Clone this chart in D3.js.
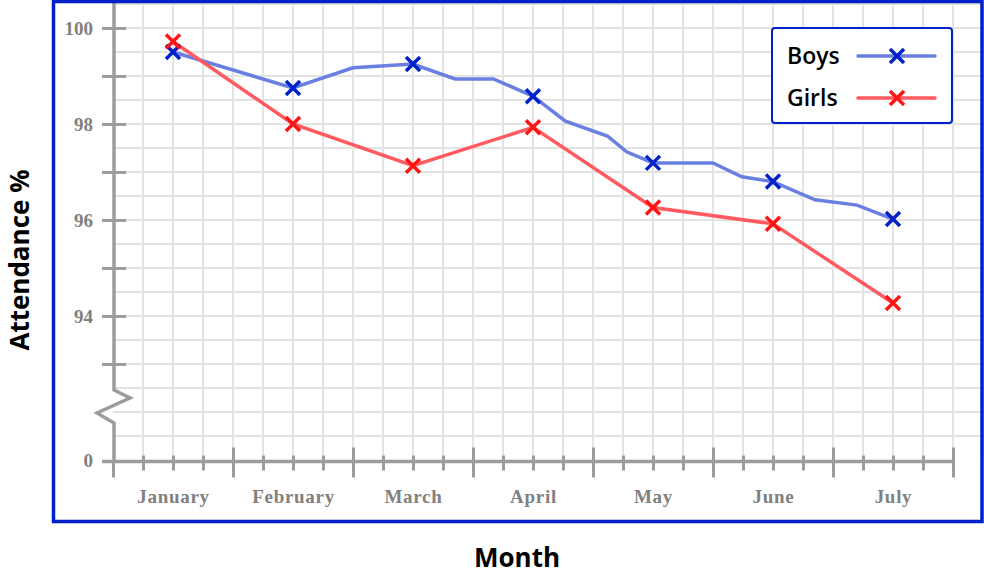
<!DOCTYPE html>
<html>
<head>
  <title>Attendance</title>
  <script src="https://d3js.org/d3.v7.min.js"></script>
  <style>
    body { margin: 0; background: #fff; }
  </style>
</head>
<body>
  <div id="chart"></div>
  <script>
    // data
    const months = ["January", "February", "March", "April", "May", "June", "July"];

    // boys line has extra readings between the months (position in months from January)
    const boysPos = [0, 1, 1.5, 2, 2.35, 2.67, 3, 3.27, 3.62, 3.78, 4, 4.5, 4.74, 5, 5.35, 5.7, 6];
    const boysVal = [99.5, 98.75, 99.17, 99.25, 98.94, 98.94, 98.58, 98.06, 97.75, 97.42, 97.19, 97.19, 96.9, 96.8, 96.42, 96.31, 96.02];

    const girlsVal = [99.72, 98.0, 97.13, 97.93, 96.26, 95.92, 94.27];

    const yTickVals = [100, 98, 96, 94];
    const yBreakValue = 91;   // where the broken axis shows "0"
    const yBreakLabel = "0";

    const width = 984, height = 576;

    const svg = d3.select("#chart")
                  .append("svg")
                  .attr("width", width)
                  .attr("height", height);

    // scales
    const x = d3.scaleLinear().domain([-0.5, 6.5]).range([113, 953]);
    const y = d3.scaleLinear().domain([91, 100]).range([460, 28]);

    const gridColor = "#e3e3e3", axisColor = "#9c9c9c";

    // grid
    const grid = svg.append("g");
    grid.selectAll(".vg")
        .data(d3.range(-0.25, 6.76, 0.25))
        .enter().append("line")
        .attr("x1", d => x(d)).attr("x2", d => x(d))
        .attr("y1", 3).attr("y2", y(91))
        .attr("stroke", gridColor).attr("stroke-width", 2);
    grid.selectAll(".hg")
        .data(d3.range(91.5, 100.51, 0.5))
        .enter().append("line")
        .attr("x1", x(-0.5)).attr("x2", 982)
        .attr("y1", d => y(d)).attr("y2", d => y(d))
        .attr("stroke", gridColor).attr("stroke-width", 2);

    // x axis: quarter-month ticks, big ones between months
    const xAxis = svg.append("g")
       .attr("transform", `translate(0,${y(91) + 1.5})`)
       .call(d3.axisBottom(x).tickValues(d3.range(-0.5, 6.51, 0.25)).tickFormat(""));
    xAxis.select(".domain").remove();
    xAxis.selectAll(".tick line")
         .attr("stroke", axisColor).attr("stroke-width", 3)
         .attr("y1", (d, i) => i === 0 ? 0 : (i % 4 === 0 ? -14 : -6))
         .attr("y2", (d, i) => i % 4 === 0 ? 16 : 9);
    xAxis.append("line")
         .attr("x1", 102).attr("x2", 955)
         .attr("stroke", axisColor).attr("stroke-width", 3.5);

    const xLabels = svg.append("g")
       .attr("transform", `translate(0,${y(91)})`)
       .call(d3.axisBottom(x).tickValues(d3.range(0, 7)).tickFormat(i => months[i]).tickSize(0).tickPadding(30));
    xLabels.select(".domain").remove();
    xLabels.selectAll("text")
         .attr("fill", "#808080")
         .style("font", "bold 19px 'Liberation Serif', serif")
         .style("letter-spacing", "0.7px");

    // y axis with a break
    const yAxis = svg.append("g")
       .attr("transform", `translate(${x(-0.5) + 1},0)`)
       .call(d3.axisLeft(y).tickValues(d3.range(93, 100.1, 1)).tickFormat(""));
    yAxis.select(".domain").remove();
    yAxis.selectAll(".tick line")
         .attr("stroke", axisColor).attr("stroke-width", 3)
         .attr("x1", -12).attr("x2", 12);

    const ax0 = x(-0.5) + 1;
    yAxis.append("path")
         .attr("transform", `translate(${-ax0},0)`)
         .attr("d", `M${ax0},3 V390 L${ax0 + 16},398 L${ax0 - 17},413 L${ax0},423 V${y(91) + 1.5}`)
         .attr("fill", "none").attr("stroke", axisColor).attr("stroke-width", 3.5);

    const yLabels = svg.append("g")
       .attr("transform", `translate(${x(-0.5)},0)`)
       .call(d3.axisLeft(y).tickValues(yTickVals.concat([yBreakValue]))
               .tickFormat(d => d === yBreakValue ? yBreakLabel : d)
               .tickSize(0).tickPadding(20));
    yLabels.select(".domain").remove();
    yLabels.selectAll("text")
         .attr("fill", "#808080")
         .style("font", "bold 19px 'Liberation Serif', serif");

    // lines
    const boys = boysPos.map((p, i) => ({p: p, v: boysVal[i]}));
    const girls = girlsVal.map((v, i) => ({p: i, v: v}));
    const line = d3.line().x(d => x(d.p)).y(d => y(d.v));

    svg.append("path").datum(boys)
       .attr("d", line).attr("fill", "none")
       .attr("stroke", "#6a7fe2").attr("stroke-width", 3.5);
    svg.append("path").datum(girls)
       .attr("d", line).attr("fill", "none")
       .attr("stroke", "#ff5a60").attr("stroke-width", 3.5);

    // cross markers
    const cross = "M-7,-7L7,7M-7,7L7,-7";
    function markers(data, color) {
      svg.append("g").selectAll("path")
         .data(data)
         .enter().append("path")
         .attr("transform", d => `translate(${x(d.p)},${y(d.v)})`)
         .attr("d", cross)
         .attr("stroke", color).attr("stroke-width", 3.5).attr("fill", "none");
    }
    markers(boys.filter(d => Number.isInteger(d.p)), "#0021c9");
    markers(girls, "#ff1414");

    // legend
    const legend = svg.append("g");
    legend.append("rect")
          .attr("x", 772).attr("y", 28).attr("width", 180).attr("height", 95)
          .attr("rx", 3).attr("fill", "#fff")
          .attr("stroke", "#0021c9").attr("stroke-width", 2);
    const legItems = [
      {name: "Boys", line: "#6a7fe2", mark: "#0021c9", y: 56},
      {name: "Girls", line: "#ff5a60", mark: "#ff1414", y: 98}
    ];
    legItems.forEach(it => {
      legend.append("text")
            .attr("x", 787).attr("y", it.y + 8)
            .style("font", "600 23px 'Open Sans', sans-serif")
            .attr("fill", "#000").text(it.name);
      legend.append("line")
            .attr("x1", 858).attr("x2", 935).attr("y1", it.y).attr("y2", it.y)
            .attr("stroke", it.line).attr("stroke-width", 3.5).attr("stroke-linecap", "round");
      legend.append("path")
            .attr("transform", `translate(897,${it.y})`)
            .attr("d", cross)
            .attr("stroke", it.mark).attr("stroke-width", 3.5).attr("fill", "none");
    });

    // frame
    svg.append("rect")
       .attr("x", 53.5).attr("y", 1.5).attr("width", 928.5).attr("height", 520)
       .attr("fill", "none").attr("stroke", "#0021c9").attr("stroke-width", 3.5);

    // axis titles
    svg.append("text")
       .attr("transform", "translate(29,260) rotate(-90)")
       .attr("text-anchor", "middle")
       .style("font", "bold 26px 'Open Sans', sans-serif")
       .attr("fill", "#000").text("Attendance %");
    svg.append("text")
       .attr("x", 517).attr("y", 567)
       .attr("text-anchor", "middle")
       .style("font", "bold 26px 'Open Sans', sans-serif")
       .attr("fill", "#000").text("Month");
  </script>
</body>
</html>
